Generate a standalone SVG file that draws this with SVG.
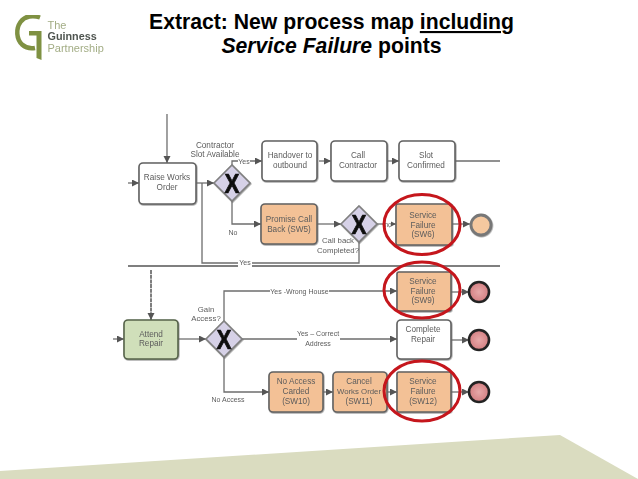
<svg xmlns="http://www.w3.org/2000/svg" width="638" height="479" viewBox="0 0 638 479">
<style>
.t{font-family:"Liberation Sans",Arial,sans-serif;font-size:8.2px;fill:#5c5c5c;text-anchor:middle}
.s{font-size:7px}
.m{font-size:7.800px}
.title{font-family:"Liberation Sans",Arial,sans-serif;font-size:21.200px;font-weight:bold;fill:#000;text-anchor:middle}
.box{stroke:#626262;stroke-width:1.6;filter:url(#sh)}
.w{fill:#fff}.o{fill:#f3c196}.g{fill:#d0dfba;stroke:#56644a}
.c{fill:none;stroke:#6e6e6e;stroke-width:1.3}
.dk{fill:none;stroke:#555;stroke-width:1.5}
.a{marker-end:url(#ar)}
.dm{fill:#d6d1e7;stroke:#808080;stroke-width:1.6;filter:url(#sh)}
.x{font-family:"Liberation Sans",Arial,sans-serif;font-size:28px;font-weight:bold;fill:#111;stroke:#111;stroke-width:0.7;text-anchor:middle}
.end{fill:url(#rd);stroke:#222;stroke-width:2.6}
.ring{fill:none;stroke:#c5141b;stroke-width:3}
</style>
<defs>
<marker id="ar" markerWidth="8" markerHeight="8" refX="7" refY="3.500" orient="auto" markerUnits="userSpaceOnUse"><path d="M0 0L7 3.500L0 7z" fill="#555"/></marker>
<filter id="sh" x="-15%" y="-15%" width="130%" height="130%"><feDropShadow dx="0.6" dy="0.8" stdDeviation="0.7" flood-color="#666" flood-opacity="0.7"/></filter>
<filter id="soft" x="-2%" y="-2%" width="104%" height="104%"><feGaussianBlur stdDeviation="0.35"/></filter>
<radialGradient id="rd"><stop offset="0" stop-color="#e7a9a9"/><stop offset="1" stop-color="#d47f82"/></radialGradient>
</defs>

<polygon id="footer" points="0,471 560,435 638,479 0,479" fill="#dadcc0"/>

<g id="logo" filter="url(#soft)">
<path d="M40 17.500C33 15 25 16 20.500 22C15.500 29 16.500 39 22 44.500C26 48 30 49 35 48" fill="none" stroke="#7f9143" stroke-width="4.500"/>
<path d="M29 31H41.500V60L36.500 58V35.500H29z" fill="#7f9143"/>
<text x="47.500" y="28.500" font-family="'Liberation Sans',Arial,sans-serif" font-size="11" fill="#a3ad85">The</text>
<text x="47.500" y="40" font-family="'Liberation Sans',Arial,sans-serif" font-size="10.800" font-weight="bold" fill="#4f5450">Guinness</text>
<text x="47.500" y="51.500" font-family="'Liberation Sans',Arial,sans-serif" font-size="11" fill="#a3ad85">Partnership</text>
</g>

<g id="title">
<text class="title" x="331.500" y="29">Extract: New process map <tspan text-decoration="underline">including</tspan></text>
<text class="title" x="331.500" y="53"><tspan font-style="italic">Service Failure</tspan> points</text>
</g>

<g filter="url(#soft)">
<g id="connectors">
<path class="dk" d="M128 266H500"/>
<path class="c a" d="M167 114V163"/>
<path class="c a" d="M128 183H139"/>
<path class="c a" d="M196 183H214"/>
<path class="c a" d="M232 165V161H262"/>
<path class="c a" d="M232 201V224H261"/>
<path class="c" d="M202 183V263H359V242"/>
<path class="c a" d="M319 161H331"/>
<path class="c a" d="M387 161H399"/>
<path class="c" d="M455 161H500"/>
<path class="c a" d="M317 224H341"/>
<path class="c a" d="M377 224H396"/>
<path class="c a" d="M452 224H470"/>
<path class="dk a" d="M151 270V320" stroke-dasharray="4 0.700"/>
<path class="c a" d="M113 339H124"/>
<path class="c a" d="M178 339H206"/>
<path class="c a" d="M224 321V291H397"/>
<path class="c a" d="M242 339H397"/>
<path class="c a" d="M224 357V392H269"/>
<path class="c a" d="M323 392H333"/>
<path class="c a" d="M387 392H397"/>
<path class="c a" d="M451 292H469"/>
<path class="c a" d="M451 340H469"/>
<path class="c a" d="M451 392H469"/>
</g>

<g id="edge-labels">
<text class="t" x="215" y="148">Contractor</text>
<text class="t" x="215" y="157">Slot Available</text>
<rect x="238" y="157" width="12" height="8" fill="#fff"/><text class="t s" x="244" y="164">Yes</text>
<text class="t s" x="233" y="235">No</text>
<rect x="238" y="259" width="14" height="8" fill="#fff"/><text class="t s" x="245" y="265">Yes</text>
<text class="t m" x="338" y="243">Call back</text>
<text class="t m" x="338" y="253">Completed?</text>
<rect x="384" y="221" width="7" height="6" fill="#fff"/><text class="t" x="388" y="227" style="font-size:6.500px">no</text>
<text class="t m" x="206" y="312">Gain</text>
<text class="t m" x="206" y="321">Access?</text>
<rect x="270" y="286" width="59" height="10" fill="#fff"/><text class="t s" x="299.500" y="294">Yes -Wrong House</text>
<rect x="297" y="330" width="43" height="18" fill="#fff"/><text class="t s" x="318" y="336">Yes – Correct</text>
<text class="t s" x="318" y="346">Address</text>
<text class="t s" x="228" y="402">No Access</text>
</g>

<g id="raise-works-order"><rect class="box w" x="139" y="163" width="57" height="41" rx="4"/><text class="t" x="167" y="180">Raise Works</text><text class="t" x="167" y="190">Order</text></g>
<g id="gateway-contractor"><polygon class="dm" points="232,165 250,183 232,201 214,183"/><text class="x" x="232" y="193" textLength="15" lengthAdjust="spacingAndGlyphs">X</text></g>
<g id="handover"><rect class="box w" x="262" y="141" width="55" height="40" rx="4"/><text class="t" x="290" y="158">Handover to</text><text class="t" x="290" y="168">outbound</text></g>
<g id="call-contractor"><rect class="box w" x="331" y="141" width="56" height="40" rx="4"/><text class="t" x="358" y="158">Call</text><text class="t" x="358" y="168">Contractor</text></g>
<g id="slot-confirmed"><rect class="box w" x="399" y="141" width="56" height="40" rx="4"/><text class="t" x="426" y="158">Slot</text><text class="t" x="426" y="168">Confirmed</text></g>
<g id="promise-call-back"><rect class="box o" x="261" y="204" width="56" height="40" rx="4"/><text class="t" x="289" y="222">Promise Call</text><text class="t" x="289" y="232">Back (SW5)</text></g>
<g id="gateway-callback"><polygon class="dm" points="359,206 377,224 359,242 341,224"/><text class="x" x="359" y="234" textLength="15" lengthAdjust="spacingAndGlyphs">X</text></g>
<g id="service-failure-sw6"><rect class="box o" x="396" y="204" width="56" height="41" rx="2"/><text class="t" x="423" y="218">Service</text><text class="t" x="423" y="227.500">Failure</text><text class="t" x="423" y="237">(SW6)</text></g>
<g id="end-sw6"><circle cx="481" cy="225" r="10" fill="#f5c89f" stroke="#777" stroke-width="2.800" filter="url(#sh)"/></g>

<g id="attend-repair"><rect class="box g" x="124" y="320" width="54" height="39" rx="4"/><text class="t" x="151" y="337">Attend</text><text class="t" x="151" y="346">Repair</text></g>
<g id="gateway-access"><polygon class="dm" points="224,321 242,339 224,357 206,339"/><text class="x" x="224" y="349" textLength="15" lengthAdjust="spacingAndGlyphs">X</text></g>
<g id="service-failure-sw9"><rect class="box o" x="397" y="272" width="54" height="39" rx="2"/><text class="t" x="423" y="284">Service</text><text class="t" x="423" y="293.500">Failure</text><text class="t" x="423" y="303">(SW9)</text></g>
<g id="end-sw9"><circle class="end" cx="479" cy="292" r="10"/></g>
<g id="complete-repair"><rect class="box w" x="397" y="320" width="54" height="39" rx="4"/><text class="t" x="423" y="332">Complete</text><text class="t" x="423" y="342">Repair</text></g>
<g id="end-complete"><circle class="end" cx="479" cy="340" r="10"/></g>
<g id="no-access-carded"><rect class="box o" x="269" y="372" width="54" height="40" rx="4"/><text class="t" x="296" y="384">No Access</text><text class="t" x="296" y="394">Carded</text><text class="t" x="296" y="403.500">(SW10)</text></g>
<g id="cancel-works-order"><rect class="box o" x="333" y="372" width="54" height="40" rx="4"/><text class="t" x="359" y="384">Cancel</text><text class="t m" x="359" y="394">Works Order</text><text class="t" x="359" y="403.500">(SW11)</text></g>
<g id="service-failure-sw12"><rect class="box o" x="397" y="372" width="54" height="40" rx="2"/><text class="t" x="423" y="384">Service</text><text class="t" x="423" y="394">Failure</text><text class="t" x="423" y="403.500">(SW12)</text></g>
<g id="end-sw12"><circle class="end" cx="479" cy="392" r="10"/></g>

<g id="highlights">
<ellipse class="ring" cx="422" cy="224.500" rx="38" ry="30"/>
<ellipse class="ring" cx="422" cy="290" rx="38" ry="28"/>
<ellipse class="ring" cx="422" cy="391" rx="38" ry="30"/>
</g>
</g>
</svg>
